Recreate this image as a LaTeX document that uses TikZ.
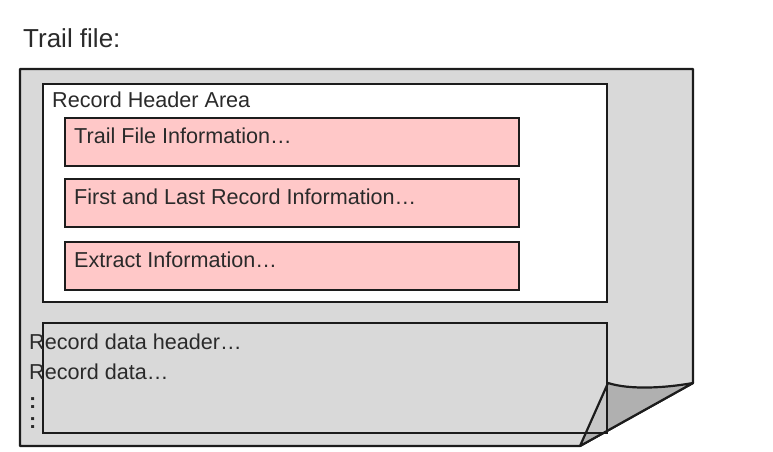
\documentclass[tikz,border=0pt]{standalone}
\usepackage{fontspec}
\setmainfont{Liberation Sans}
\usepackage{tikz}
\usetikzlibrary{positioning}
\definecolor{pagegray}{HTML}{D9D9D9}
\definecolor{flapgray}{HTML}{B0B0B0}
\definecolor{recpink}{HTML}{FFC8C8}
\definecolor{inkline}{HTML}{1C1C1C}
\definecolor{inktext}{HTML}{2A2A2A}
\tikzset{page/.style={draw=inkline, line width=2.2pt, fill=pagegray, line join=round}}
\tikzset{hdrarea/.style={rectangle, draw=inkline, line width=2.2pt, fill=white, anchor=north west, inner sep=0pt}}
\tikzset{recbox/.style={rectangle, draw=inkline, line width=2.2pt, fill=recpink, anchor=north west, inner sep=0pt,
 minimum width=454pt, minimum height=48pt}}
\tikzset{databox/.style={rectangle, draw=inkline, line width=2.2pt, fill=pagegray, fill opacity=0.6, anchor=north west, inner sep=0pt}}
\tikzset{txt/.style={anchor=base west, inner sep=0pt, text=inktext, font=\fontsize{21.6}{26}\selectfont}}
\begin{document}
\begin{tikzpicture}[x=1pt,y=-1pt]
        \useasboundingbox (0,0) rectangle (773,452);
        \node[txt, font=\fontsize{26}{30}\selectfont] (title) at (23,48) {Trail file:};
        % the page with its turned corner
        \coordinate (corner) at (580,446);
        \coordinate (flaptop) at (608,383);
        \coordinate (flaptip) at (693,383);
        \draw[page] (20,69) -- (693,69) -- (flaptip) -- (corner) -- (20,446) -- cycle;
        \fill[flapgray] (corner) -- (flaptop) .. controls (630,390) and (665,388) .. (flaptip) -- cycle;
        \node[hdrarea, minimum width=564pt, minimum height=218pt] (hdr) at (42,83) {};
        \node[txt] (hdrlbl) at (52,107) {Record Header Area};
        \node[recbox] (tfi) at (64,117) {};
        \node[recbox] (flr) at (64,178) {};
        \node[recbox] (ext) at (64,241) {};
        \node[txt] at ([xshift=10pt,yshift=-26pt]tfi.north west) {Trail File Information…};
        \node[txt] at ([xshift=10pt,yshift=-26pt]flr.north west) {First and Last Record Information…};
        \node[txt] at ([xshift=10pt,yshift=-26pt]ext.north west) {Extract Information…};
        \node[databox, minimum width=564pt, minimum height=110pt] (data) at (42,322) {};
        \draw[draw=inkline, line width=2.2pt, line join=round] (corner) -- (flaptop) .. controls (630,390) and (665,388) .. (flaptip) -- cycle;
        \node[txt] (dhdr) at (29,349) {Record data header…};
        \node[txt] (drec) at (29,379) {Record data…};
        \node[txt] (dots1) at (29,408) {\textbf{:}};
        \node[txt] (dots2) at (29,428) {\textbf{:}};
\end{tikzpicture}
\end{document}
